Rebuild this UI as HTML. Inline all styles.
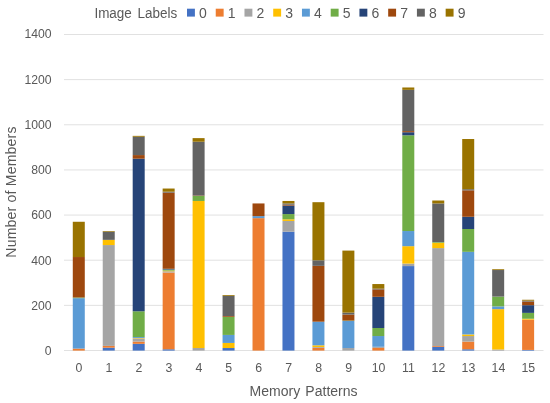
<!DOCTYPE html>
<html lang="en"><head><meta charset="utf-8"><title>Memory Patterns chart</title>
<style>html,body{margin:0;padding:0;background:#fff;}body{width:550px;height:403px;overflow:hidden;}svg{display:block;}text{font-family:"Liberation Sans", sans-serif;fill:#595959;}</style></head><body>
<svg width="550" height="403" viewBox="0 0 550 403">
<rect width="550" height="403" fill="#ffffff"/>
<g stroke="#E1E1E1" stroke-width="1">
<line x1="64.0" y1="350.50" x2="543.5" y2="350.50"/>
<line x1="64.0" y1="305.36" x2="543.5" y2="305.36"/>
<line x1="64.0" y1="260.21" x2="543.5" y2="260.21"/>
<line x1="64.0" y1="215.07" x2="543.5" y2="215.07"/>
<line x1="64.0" y1="169.93" x2="543.5" y2="169.93"/>
<line x1="64.0" y1="124.79" x2="543.5" y2="124.79"/>
<line x1="64.0" y1="79.64" x2="543.5" y2="79.64"/>
<line x1="64.0" y1="34.50" x2="543.5" y2="34.50"/>
</g>
<g>
<rect x="72.78" y="348.59" width="12.00" height="2.01" fill="#ED7D31"/>
<rect x="72.78" y="298.18" width="12.00" height="50.41" fill="#5B9BD5"/>
<rect x="72.78" y="297.50" width="12.00" height="0.68" fill="#70AD47"/>
<rect x="72.78" y="257.03" width="12.00" height="40.47" fill="#9E480E"/>
<rect x="72.78" y="221.77" width="12.00" height="35.27" fill="#997300"/>
<rect x="102.73" y="347.69" width="12.00" height="2.91" fill="#4472C4"/>
<rect x="102.73" y="345.88" width="12.00" height="1.81" fill="#ED7D31"/>
<rect x="102.73" y="245.05" width="12.00" height="100.83" fill="#A5A5A5"/>
<rect x="102.73" y="239.85" width="12.00" height="5.20" fill="#FFC000"/>
<rect x="102.73" y="231.71" width="12.00" height="8.14" fill="#636363"/>
<rect x="102.73" y="231.03" width="12.00" height="0.68" fill="#997300"/>
<rect x="132.69" y="343.84" width="12.00" height="6.76" fill="#4472C4"/>
<rect x="132.69" y="341.58" width="12.00" height="2.26" fill="#ED7D31"/>
<rect x="132.69" y="338.42" width="12.00" height="3.16" fill="#A5A5A5"/>
<rect x="132.69" y="337.97" width="12.00" height="0.45" fill="#FFC000"/>
<rect x="132.69" y="337.06" width="12.00" height="0.90" fill="#5B9BD5"/>
<rect x="132.69" y="311.29" width="12.00" height="25.77" fill="#70AD47"/>
<rect x="132.69" y="158.69" width="12.00" height="152.60" fill="#264478"/>
<rect x="132.69" y="155.07" width="12.00" height="3.62" fill="#9E480E"/>
<rect x="132.69" y="136.76" width="12.00" height="18.31" fill="#636363"/>
<rect x="132.69" y="135.86" width="12.00" height="0.90" fill="#997300"/>
<rect x="162.65" y="349.27" width="12.00" height="1.33" fill="#4472C4"/>
<rect x="162.65" y="272.52" width="12.00" height="76.75" fill="#ED7D31"/>
<rect x="162.65" y="271.27" width="12.00" height="1.24" fill="#A5A5A5"/>
<rect x="162.65" y="270.60" width="12.00" height="0.68" fill="#FFC000"/>
<rect x="162.65" y="269.58" width="12.00" height="1.02" fill="#70AD47"/>
<rect x="162.65" y="268.79" width="12.00" height="0.79" fill="#264478"/>
<rect x="162.65" y="192.60" width="12.00" height="76.19" fill="#9E480E"/>
<rect x="162.65" y="191.70" width="12.00" height="0.90" fill="#636363"/>
<rect x="162.65" y="188.53" width="12.00" height="3.16" fill="#997300"/>
<rect x="192.60" y="348.03" width="12.00" height="2.57" fill="#A5A5A5"/>
<rect x="192.60" y="200.97" width="12.00" height="147.06" fill="#FFC000"/>
<rect x="192.60" y="195.99" width="12.00" height="4.97" fill="#70AD47"/>
<rect x="192.60" y="195.54" width="12.00" height="0.45" fill="#9E480E"/>
<rect x="192.60" y="141.74" width="12.00" height="53.80" fill="#636363"/>
<rect x="192.60" y="138.12" width="12.00" height="3.62" fill="#997300"/>
<rect x="222.56" y="348.03" width="12.00" height="2.57" fill="#4472C4"/>
<rect x="222.56" y="342.94" width="12.00" height="5.09" fill="#FFC000"/>
<rect x="222.56" y="334.91" width="12.00" height="8.03" fill="#5B9BD5"/>
<rect x="222.56" y="316.83" width="12.00" height="18.09" fill="#70AD47"/>
<rect x="222.56" y="316.04" width="12.00" height="0.79" fill="#9E480E"/>
<rect x="222.56" y="295.80" width="12.00" height="20.23" fill="#636363"/>
<rect x="222.56" y="295.01" width="12.00" height="0.79" fill="#997300"/>
<rect x="252.52" y="218.15" width="12.00" height="132.45" fill="#ED7D31"/>
<rect x="252.52" y="216.11" width="12.00" height="2.03" fill="#5B9BD5"/>
<rect x="252.52" y="203.45" width="12.00" height="12.66" fill="#9E480E"/>
<rect x="282.47" y="231.71" width="12.00" height="118.89" fill="#4472C4"/>
<rect x="282.47" y="220.95" width="12.00" height="10.76" fill="#A5A5A5"/>
<rect x="282.47" y="219.28" width="12.00" height="1.67" fill="#FFC000"/>
<rect x="282.47" y="214.08" width="12.00" height="5.20" fill="#70AD47"/>
<rect x="282.47" y="205.60" width="12.00" height="8.48" fill="#264478"/>
<rect x="282.47" y="204.70" width="12.00" height="0.90" fill="#9E480E"/>
<rect x="282.47" y="203.45" width="12.00" height="1.24" fill="#636363"/>
<rect x="282.47" y="200.97" width="12.00" height="2.49" fill="#997300"/>
<rect x="312.43" y="347.80" width="12.00" height="2.80" fill="#ED7D31"/>
<rect x="312.43" y="347.01" width="12.00" height="0.79" fill="#A5A5A5"/>
<rect x="312.43" y="345.31" width="12.00" height="1.70" fill="#FFC000"/>
<rect x="312.43" y="321.69" width="12.00" height="23.62" fill="#5B9BD5"/>
<rect x="312.43" y="265.85" width="12.00" height="55.84" fill="#9E480E"/>
<rect x="312.43" y="260.29" width="12.00" height="5.56" fill="#636363"/>
<rect x="312.43" y="202.19" width="12.00" height="58.10" fill="#997300"/>
<rect x="342.38" y="348.03" width="12.00" height="2.57" fill="#A5A5A5"/>
<rect x="342.38" y="321.01" width="12.00" height="27.02" fill="#5B9BD5"/>
<rect x="342.38" y="320.56" width="12.00" height="0.45" fill="#70AD47"/>
<rect x="342.38" y="314.57" width="12.00" height="5.99" fill="#9E480E"/>
<rect x="342.38" y="312.65" width="12.00" height="1.92" fill="#636363"/>
<rect x="342.38" y="250.59" width="12.00" height="62.06" fill="#997300"/>
<rect x="372.34" y="347.91" width="12.00" height="2.69" fill="#ED7D31"/>
<rect x="372.34" y="346.78" width="12.00" height="1.13" fill="#A5A5A5"/>
<rect x="372.34" y="336.04" width="12.00" height="10.74" fill="#5B9BD5"/>
<rect x="372.34" y="328.02" width="12.00" height="8.03" fill="#70AD47"/>
<rect x="372.34" y="296.82" width="12.00" height="31.20" fill="#264478"/>
<rect x="372.34" y="289.36" width="12.00" height="7.46" fill="#9E480E"/>
<rect x="372.34" y="288.68" width="12.00" height="0.68" fill="#636363"/>
<rect x="372.34" y="284.05" width="12.00" height="4.63" fill="#997300"/>
<rect x="402.30" y="266.08" width="12.00" height="84.52" fill="#4472C4"/>
<rect x="402.30" y="263.59" width="12.00" height="2.49" fill="#A5A5A5"/>
<rect x="402.30" y="246.18" width="12.00" height="17.41" fill="#FFC000"/>
<rect x="402.30" y="231.03" width="12.00" height="15.15" fill="#5B9BD5"/>
<rect x="402.30" y="135.29" width="12.00" height="95.74" fill="#70AD47"/>
<rect x="402.30" y="132.24" width="12.00" height="3.05" fill="#264478"/>
<rect x="402.30" y="131.11" width="12.00" height="1.13" fill="#9E480E"/>
<rect x="402.30" y="89.85" width="12.00" height="41.26" fill="#636363"/>
<rect x="402.30" y="87.48" width="12.00" height="2.37" fill="#997300"/>
<rect x="432.25" y="346.78" width="12.00" height="3.82" fill="#4472C4"/>
<rect x="432.25" y="345.99" width="12.00" height="0.79" fill="#ED7D31"/>
<rect x="432.25" y="248.10" width="12.00" height="97.89" fill="#A5A5A5"/>
<rect x="432.25" y="242.79" width="12.00" height="5.31" fill="#FFC000"/>
<rect x="432.25" y="242.11" width="12.00" height="0.68" fill="#70AD47"/>
<rect x="432.25" y="203.45" width="12.00" height="38.66" fill="#636363"/>
<rect x="432.25" y="200.51" width="12.00" height="2.94" fill="#997300"/>
<rect x="462.21" y="349.27" width="12.00" height="1.33" fill="#4472C4"/>
<rect x="462.21" y="341.58" width="12.00" height="7.69" fill="#ED7D31"/>
<rect x="462.21" y="336.04" width="12.00" height="5.54" fill="#A5A5A5"/>
<rect x="462.21" y="334.46" width="12.00" height="1.58" fill="#FFC000"/>
<rect x="462.21" y="251.83" width="12.00" height="82.63" fill="#5B9BD5"/>
<rect x="462.21" y="229.00" width="12.00" height="22.83" fill="#70AD47"/>
<rect x="462.21" y="216.79" width="12.00" height="12.21" fill="#264478"/>
<rect x="462.21" y="190.34" width="12.00" height="26.45" fill="#9E480E"/>
<rect x="462.21" y="189.21" width="12.00" height="1.13" fill="#636363"/>
<rect x="462.21" y="139.02" width="12.00" height="50.19" fill="#997300"/>
<rect x="492.17" y="349.50" width="12.00" height="1.10" fill="#A5A5A5"/>
<rect x="492.17" y="309.14" width="12.00" height="40.35" fill="#FFC000"/>
<rect x="492.17" y="306.41" width="12.00" height="2.74" fill="#5B9BD5"/>
<rect x="492.17" y="296.59" width="12.00" height="9.81" fill="#70AD47"/>
<rect x="492.17" y="270.03" width="12.00" height="26.56" fill="#636363"/>
<rect x="492.17" y="269.24" width="12.00" height="0.79" fill="#997300"/>
<rect x="522.12" y="349.95" width="12.00" height="0.65" fill="#4472C4"/>
<rect x="522.12" y="319.65" width="12.00" height="30.29" fill="#ED7D31"/>
<rect x="522.12" y="318.75" width="12.00" height="0.90" fill="#FFC000"/>
<rect x="522.12" y="312.87" width="12.00" height="5.88" fill="#70AD47"/>
<rect x="522.12" y="305.19" width="12.00" height="7.69" fill="#264478"/>
<rect x="522.12" y="301.57" width="12.00" height="3.62" fill="#9E480E"/>
<rect x="522.12" y="300.66" width="12.00" height="0.90" fill="#636363"/>
<rect x="522.12" y="299.76" width="12.00" height="0.90" fill="#997300"/>
</g>
<g font-size="13.00" text-anchor="end">
<text transform="translate(51.6,355.10) scale(0.94,1)">0</text>
<text transform="translate(51.6,309.86) scale(0.94,1)">200</text>
<text transform="translate(51.6,264.61) scale(0.94,1)">400</text>
<text transform="translate(51.6,219.37) scale(0.94,1)">600</text>
<text transform="translate(51.6,174.13) scale(0.94,1)">800</text>
<text transform="translate(51.6,128.89) scale(0.94,1)">1000</text>
<text transform="translate(51.6,83.64) scale(0.94,1)">1200</text>
<text transform="translate(51.6,38.40) scale(0.94,1)">1400</text>
</g>
<g font-size="13.00" text-anchor="middle">
<text transform="translate(78.98,372.4) scale(0.95,1)">0</text>
<text transform="translate(108.93,372.4) scale(0.95,1)">1</text>
<text transform="translate(138.89,372.4) scale(0.95,1)">2</text>
<text transform="translate(168.85,372.4) scale(0.95,1)">3</text>
<text transform="translate(198.80,372.4) scale(0.95,1)">4</text>
<text transform="translate(228.76,372.4) scale(0.95,1)">5</text>
<text transform="translate(258.72,372.4) scale(0.95,1)">6</text>
<text transform="translate(288.67,372.4) scale(0.95,1)">7</text>
<text transform="translate(318.63,372.4) scale(0.95,1)">8</text>
<text transform="translate(348.58,372.4) scale(0.95,1)">9</text>
<text transform="translate(378.54,372.4) scale(0.95,1)">10</text>
<text transform="translate(408.50,372.4) scale(0.95,1)">11</text>
<text transform="translate(438.45,372.4) scale(0.95,1)">12</text>
<text transform="translate(468.41,372.4) scale(0.95,1)">13</text>
<text transform="translate(498.37,372.4) scale(0.95,1)">14</text>
<text transform="translate(528.32,372.4) scale(0.95,1)">15</text>
</g>
<text x="303.6" y="395.9" font-size="14" text-anchor="middle" word-spacing="1.2" textLength="108" lengthAdjust="spacingAndGlyphs">Memory Patterns</text>
<text transform="translate(16.2,192.1) rotate(-90)" font-size="14" text-anchor="middle" textLength="131.2">Number of Members</text>
<text x="94.4" y="17.7" font-size="14" word-spacing="2" textLength="82.8" lengthAdjust="spacingAndGlyphs">Image Labels</text>
<g font-size="14">
<rect x="187.00" y="8.7" width="7.9" height="7.9" fill="#4472C4"/>
<text x="199.00" y="17.9">0</text>
<rect x="215.74" y="8.7" width="7.9" height="7.9" fill="#ED7D31"/>
<text x="227.74" y="17.9">1</text>
<rect x="244.48" y="8.7" width="7.9" height="7.9" fill="#A5A5A5"/>
<text x="256.48" y="17.9">2</text>
<rect x="273.22" y="8.7" width="7.9" height="7.9" fill="#FFC000"/>
<text x="285.22" y="17.9">3</text>
<rect x="301.96" y="8.7" width="7.9" height="7.9" fill="#5B9BD5"/>
<text x="313.96" y="17.9">4</text>
<rect x="330.70" y="8.7" width="7.9" height="7.9" fill="#70AD47"/>
<text x="342.70" y="17.9">5</text>
<rect x="359.44" y="8.7" width="7.9" height="7.9" fill="#264478"/>
<text x="371.44" y="17.9">6</text>
<rect x="388.18" y="8.7" width="7.9" height="7.9" fill="#9E480E"/>
<text x="400.18" y="17.9">7</text>
<rect x="416.92" y="8.7" width="7.9" height="7.9" fill="#636363"/>
<text x="428.92" y="17.9">8</text>
<rect x="445.66" y="8.7" width="7.9" height="7.9" fill="#997300"/>
<text x="457.66" y="17.9">9</text>
</g>
</svg></body></html>
